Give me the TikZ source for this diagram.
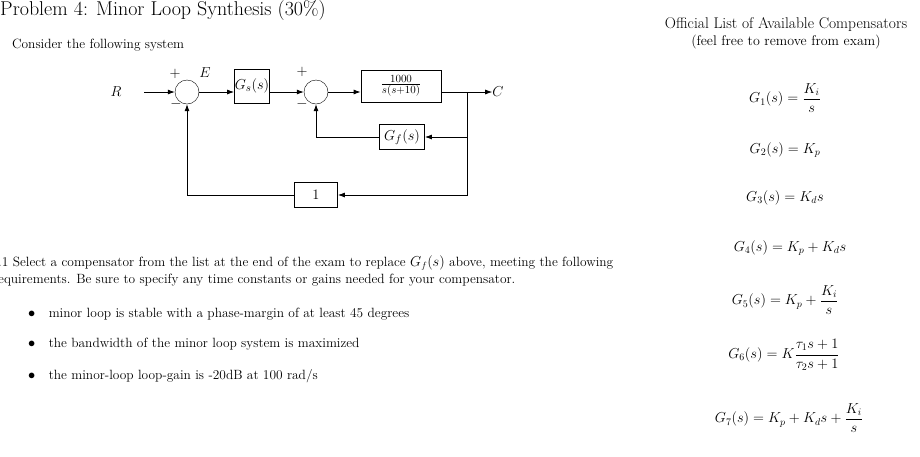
\documentclass[tikz,border=0pt]{standalone}
\usepackage{amsmath}
\usetikzlibrary{arrows.meta}
\begin{document}
\begin{tikzpicture}[x=1pt,y=-1pt,
  blk/.style={draw,thick,minimum height=#1,inner sep=1pt},
  blk/.default=26pt,
  sumj/.style={draw,circle,minimum size=24pt,inner sep=0pt},
  sig/.style={-{Latex[length=7pt,width=5pt]},thick},
  dg/.style={inner sep=0pt,font=\fontsize{15}{17}\selectfont},
  txt/.style={anchor=west,inner sep=0pt,font=\fontsize{13.4}{15}\selectfont},
  eq/.style={inner sep=0pt,font=\fontsize{14}{17}\selectfont}]
\useasboundingbox (0,0) rectangle (920,456);
\node[anchor=west,inner sep=0pt,font=\fontsize{20}{22}\selectfont] (title) at (0,11) {Problem 4: Minor Loop Synthesis (30\%)};
\node[txt] (cons) at (12,45) {Consider the following system};
% block diagram
\node[dg] (R) at (116,92) {$R$};
\coordinate (Rin) at (144,92);
\node[sumj] (s1) at (187,92) {};
\node[blk=34pt,minimum width=35pt,dg] (Gs) at (252,86) {$G_s(s)$};
\node[sumj] (s2) at (316,92) {};
\node[blk=32pt,minimum width=80pt,dg] (G) at (401,86) {$\frac{1000}{s(s+10)}$};
\coordinate (br) at (467,92);
\node[dg] (C) at (498,92) {$C$};
\node[blk=25pt,minimum width=45pt,dg] (Gf) at (402,137) {$G_f(s)$};
\node[blk=25pt,minimum width=43pt,dg] (one) at (316,195) {$1$};
\draw[sig] (Rin) -- (s1.west);
\draw[sig] (s1.east) -- (s1.east -| Gs.west);
\draw[sig] (s1.east -| Gs.east) -- (s2.west);
\draw[sig] (s2.east) -- (s2.east -| G.west);
\draw[thick] (s2.east -| G.east) -- (br);
\draw[sig] (br) -- (C.west);
\draw[sig] (br) |- (Gf.east);
\draw[sig] (br) |- (one.east);
\draw[sig] (Gf.west) -| (s2.south);
\draw[sig] (one.west) -| (s1.south);
\node[dg] (p1) at (175,74) {$+$};
\node[dg] (E) at (205,73) {$E$};
\node[dg] (m1) at (176,104) {$-$};
\node[dg] (p2) at (302,72) {$+$};
\node[dg] (m2) at (302,104) {$-$};
% question text
\node[txt] (q1) at (-2,263) {.1 Select a compensator from the list at the end of the exam to replace $G_f(s)$ above, meeting the following};
\node[txt] (q2) at (-2,280) {equirements. Be sure to specify any time constants or gains needed for your compensator.};
\node[txt] (b1) at (28,314) {$\bullet$\quad minor loop is stable with a phase-margin of at least 45 degrees};
\node[txt] (b2) at (28,344) {$\bullet$\quad the bandwidth of the minor loop system is maximized};
\node[txt] (b3) at (28,376) {$\bullet$\quad the minor-loop loop-gain is -20dB at 100 rad/s};
% right list
\node[inner sep=0pt,font=\fontsize{15.5}{18}\selectfont] (h1) at (786,25) {Official List of Available Compensators};
\node[inner sep=0pt,font=\fontsize{14}{16}\selectfont] (h2) at (786,42) {(feel free to remove from exam)};
\node[eq] (e1) at (785,98) {$G_1(s)=\dfrac{K_i}{s}$};
\node[eq] (e2) at (785,150) {$G_2(s)=K_p$};
\node[eq] (e3) at (785,198) {$G_3(s)=K_ds$};
\node[eq] (e4) at (790,248) {$G_4(s)=K_p+K_ds$};
\node[eq] (e5) at (785,300) {$G_5(s)=K_p+\dfrac{K_i}{s}$};
\node[eq] (e6) at (784,355) {$G_6(s)=K\dfrac{\tau_1s+1}{\tau_2s+1}$};
\node[eq] (e7) at (789,418) {$G_7(s)=K_p+K_ds+\dfrac{K_i}{s}$};
\end{tikzpicture}
\end{document}
